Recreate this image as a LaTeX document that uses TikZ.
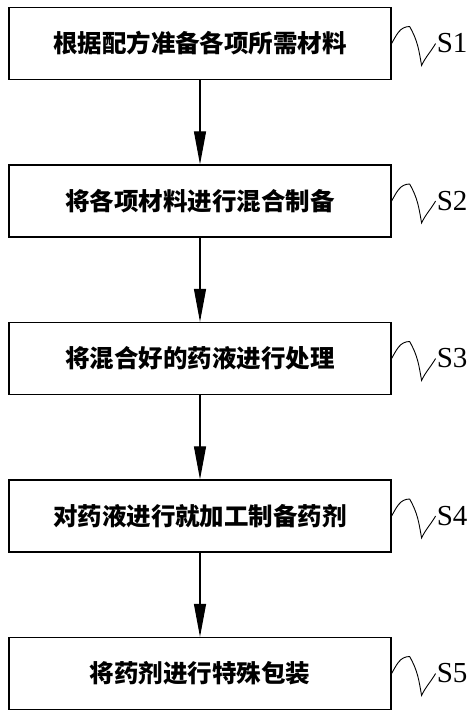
\documentclass[tikz,border=0pt]{standalone}
\usepackage{fontspec}
\setmainfont{Liberation Serif}
\newfontfamily\cjk{Noto Sans CJK SC}
\usepackage{tikz}
\usetikzlibrary{arrows.meta}
\tikzset{
    x=1pt, y=1pt,
    every node/.style={font=\cjk\bfseries\fontsize{24.5}{29}\selectfont},
    stepbox/.style={draw, rectangle, line width=1.2pt, minimum width=382pt, minimum height=72pt, inner sep=0pt},
    flow/.style={line width=1.1pt, -{Triangle[length=33pt,width=12pt]}},
    wave/.style={line width=0.9pt},
    steplabel/.style={font=\rmfamily\fontsize{29}{32}\selectfont, anchor=west, inner sep=0pt}
}

\begin{document}
\begin{tikzpicture}
        \useasboundingbox (0,0) rectangle (474,-716);

        \node[stepbox] (prep) at (200,-43.5) {根据配方准备各项所需材料};
        \node[stepbox] (mix) at (200,-201) {将各项材料进行混合制备};
        \node[stepbox] (treat) at (200,-358.5) {将混合好的药液进行处理};
        \node[stepbox] (process) at (200,-516) {对药液进行就加工制备药剂};
        \node[stepbox] (pack) at (200,-673.5) {将药剂进行特殊包装};

        \draw[flow] (prep) -- (mix);
        \draw[flow] (mix) -- (treat);
        \draw[flow] (treat) -- (process);
        \draw[flow] (process) -- (pack);

        % step marks
        \draw[wave] (prep.east) to[out=60,in=180] ++(18,17) to[out=-60,in=100] ++(12,-39) to[out=65,in=-120] ++(14,22) coordinate (w1);
        \draw[wave] (mix.east) to[out=60,in=180] ++(18,17) to[out=-60,in=100] ++(12,-39) to[out=65,in=-120] ++(14,22) coordinate (w2);
        \draw[wave] (treat.east) to[out=60,in=180] ++(18,17) to[out=-60,in=100] ++(12,-39) to[out=65,in=-120] ++(14,22) coordinate (w3);
        \draw[wave] (process.east) to[out=60,in=180] ++(18,17) to[out=-60,in=100] ++(12,-39) to[out=65,in=-120] ++(14,22) coordinate (w4);
        \draw[wave] (pack.east) to[out=60,in=180] ++(18,17) to[out=-60,in=100] ++(12,-39) to[out=65,in=-120] ++(14,22) coordinate (w5);

        \node[steplabel] (s1) at ([xshift=1pt]w1) {S1};
        \node[steplabel] (s2) at ([xshift=1pt]w2) {S2};
        \node[steplabel] (s3) at ([xshift=1pt]w3) {S3};
        \node[steplabel] (s4) at ([xshift=1pt]w4) {S4};
        \node[steplabel] (s5) at ([xshift=1pt]w5) {S5};
    \end{tikzpicture}
\end{document}
